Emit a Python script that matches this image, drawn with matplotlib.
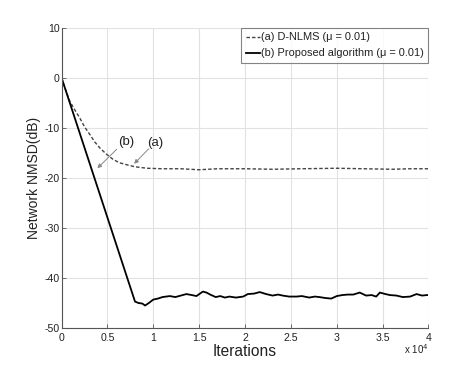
import matplotlib.pyplot as plt

plt.rcParams['font.family'] = ['Liberation Sans', 'DejaVu Sans']
plt.rcParams['axes.unicode_minus'] = False

# (a) D-NLMS, iterations in units of 1e4
nlms_x = [0, 0.03, 0.09, 0.15, 0.2, 0.25, 0.31, 0.36, 0.42, 0.49, 0.56, 0.63, 0.71, 0.8,
          0.93, 1.1, 1.3, 1.5, 1.7, 2.0, 2.3, 2.6, 3.0, 3.3, 3.6, 3.8, 4.0]
nlms_y = [0, -1.7, -4.7, -6.6, -8.1, -9.8, -11.4, -12.8, -14.1, -15.3, -16.3, -17.0, -17.4, -17.8,
          -18.1, -18.2, -18.2, -18.4, -18.2, -18.2, -18.3, -18.2, -18.1, -18.2, -18.3, -18.2, -18.2]

# (b) proposed algorithm
prop_x = [0, 0.80, 0.84, 0.88, 0.91, 0.95, 1.0, 1.05, 1.1, 1.18, 1.24, 1.3, 1.36, 1.42, 1.47,
          1.54, 1.58, 1.62, 1.68, 1.73, 1.78, 1.83, 1.9, 1.98, 2.03, 2.1, 2.16, 2.23, 2.3,
          2.36, 2.41, 2.48, 2.56, 2.62, 2.7, 2.76, 2.81, 2.88, 2.94, 3.0, 3.06, 3.12, 3.18,
          3.25, 3.32, 3.38, 3.43, 3.47, 3.53, 3.58, 3.65, 3.72, 3.8, 3.87, 3.93, 3.98, 4.0]
prop_y = [0, -44.8, -45.1, -45.2, -45.6, -45.1, -44.4, -44.2, -43.9, -43.7, -43.9, -43.6, -43.3,
          -43.5, -43.7, -42.8, -43.0, -43.4, -43.9, -43.7, -44.0, -43.8, -44.0, -43.8, -43.3,
          -43.2, -42.9, -43.3, -43.6, -43.4, -43.6, -43.8, -43.8, -43.7, -44.0, -43.8, -43.9,
          -44.1, -44.2, -43.7, -43.5, -43.4, -43.4, -43.0, -43.6, -43.5, -43.8, -43.0, -43.3,
          -43.5, -43.6, -43.9, -43.8, -43.3, -43.6, -43.5, -43.5]

x_ticks = [0, 0.5, 1, 1.5, 2, 2.5, 3, 3.5, 4]
x_tick_labels = ['0', '0.5', '1', '1.5', '2', '2.5', '3', '3.5', '4']
y_ticks = [-50, -40, -30, -20, -10, 0, 10]

fig = plt.figure(figsize=(4.74, 3.68), dpi=100)
ax = fig.add_axes([0.130, 0.110, 0.774, 0.814])

ax.plot(nlms_x, nlms_y, color='#444444', linestyle=(0, (2.5, 1.5)), linewidth=1.0,
        label='(a) D-NLMS (\u03bc = 0.01)')
ax.plot(prop_x, prop_y, color='black', linewidth=1.3,
        label='(b) Proposed algorithm (\u03bc = 0.01)')

ax.set_xlim(0, 4)
ax.set_ylim(-50, 10)
ax.set_xticks(x_ticks)
ax.set_xticklabels(x_tick_labels)
ax.set_yticks(y_ticks)
ax.grid(True, color='#e2e2e2', linewidth=0.8)
ax.set_axisbelow(True)

for s in ['top', 'right']:
    ax.spines[s].set_visible(False)
for s in ['left', 'bottom']:
    ax.spines[s].set_color('#555555')
    ax.spines[s].set_linewidth(0.8)

ax.tick_params(direction='in', length=3, width=0.6, colors='#555555',
               labelcolor='#222222', labelsize=7.6)
ax.tick_params(axis='x', pad=4)
ax.tick_params(axis='y', pad=1.5)

ax.set_xlabel('Iterations', fontsize=11.2, color='#222222', labelpad=0.5)
ax.set_ylabel('Network NMSD(dB)', fontsize=10, color='#222222')
ax.yaxis.set_label_coords(-0.056, 0.5)
fig.text(0.852, 0.038, 'x 10$^4$', fontsize=7, color='#222222', va='baseline')

# curve labels with arrows
ax.text(0.70, -12.8, '(b)', fontsize=9.5, ha='center', va='center', color='#222222')
ax.text(1.02, -13.0, '(a)', fontsize=9.5, ha='center', va='center', color='#222222')
ax.annotate('', xy=(0.39, -18.1), xytext=(0.60, -14.3),
            arrowprops=dict(arrowstyle='-|>', color='#888888', lw=0.7,
                            mutation_scale=6, shrinkA=0, shrinkB=0))
ax.annotate('', xy=(0.79, -17.2), xytext=(0.95, -14.2),
            arrowprops=dict(arrowstyle='-|>', color='#888888', lw=0.7,
                            mutation_scale=6, shrinkA=0, shrinkB=0))

leg = ax.legend(loc='upper right', fontsize=7.9, frameon=True, fancybox=False,
                handlelength=1.3, handletextpad=0.1, borderpad=0.4,
                labelspacing=0.55, borderaxespad=0.0)
leg.get_frame().set_edgecolor('#666666')
leg.get_frame().set_linewidth(0.8)
for t in leg.get_texts():
    t.set_color('#222222')

plt.savefig('out.png', dpi=100)
